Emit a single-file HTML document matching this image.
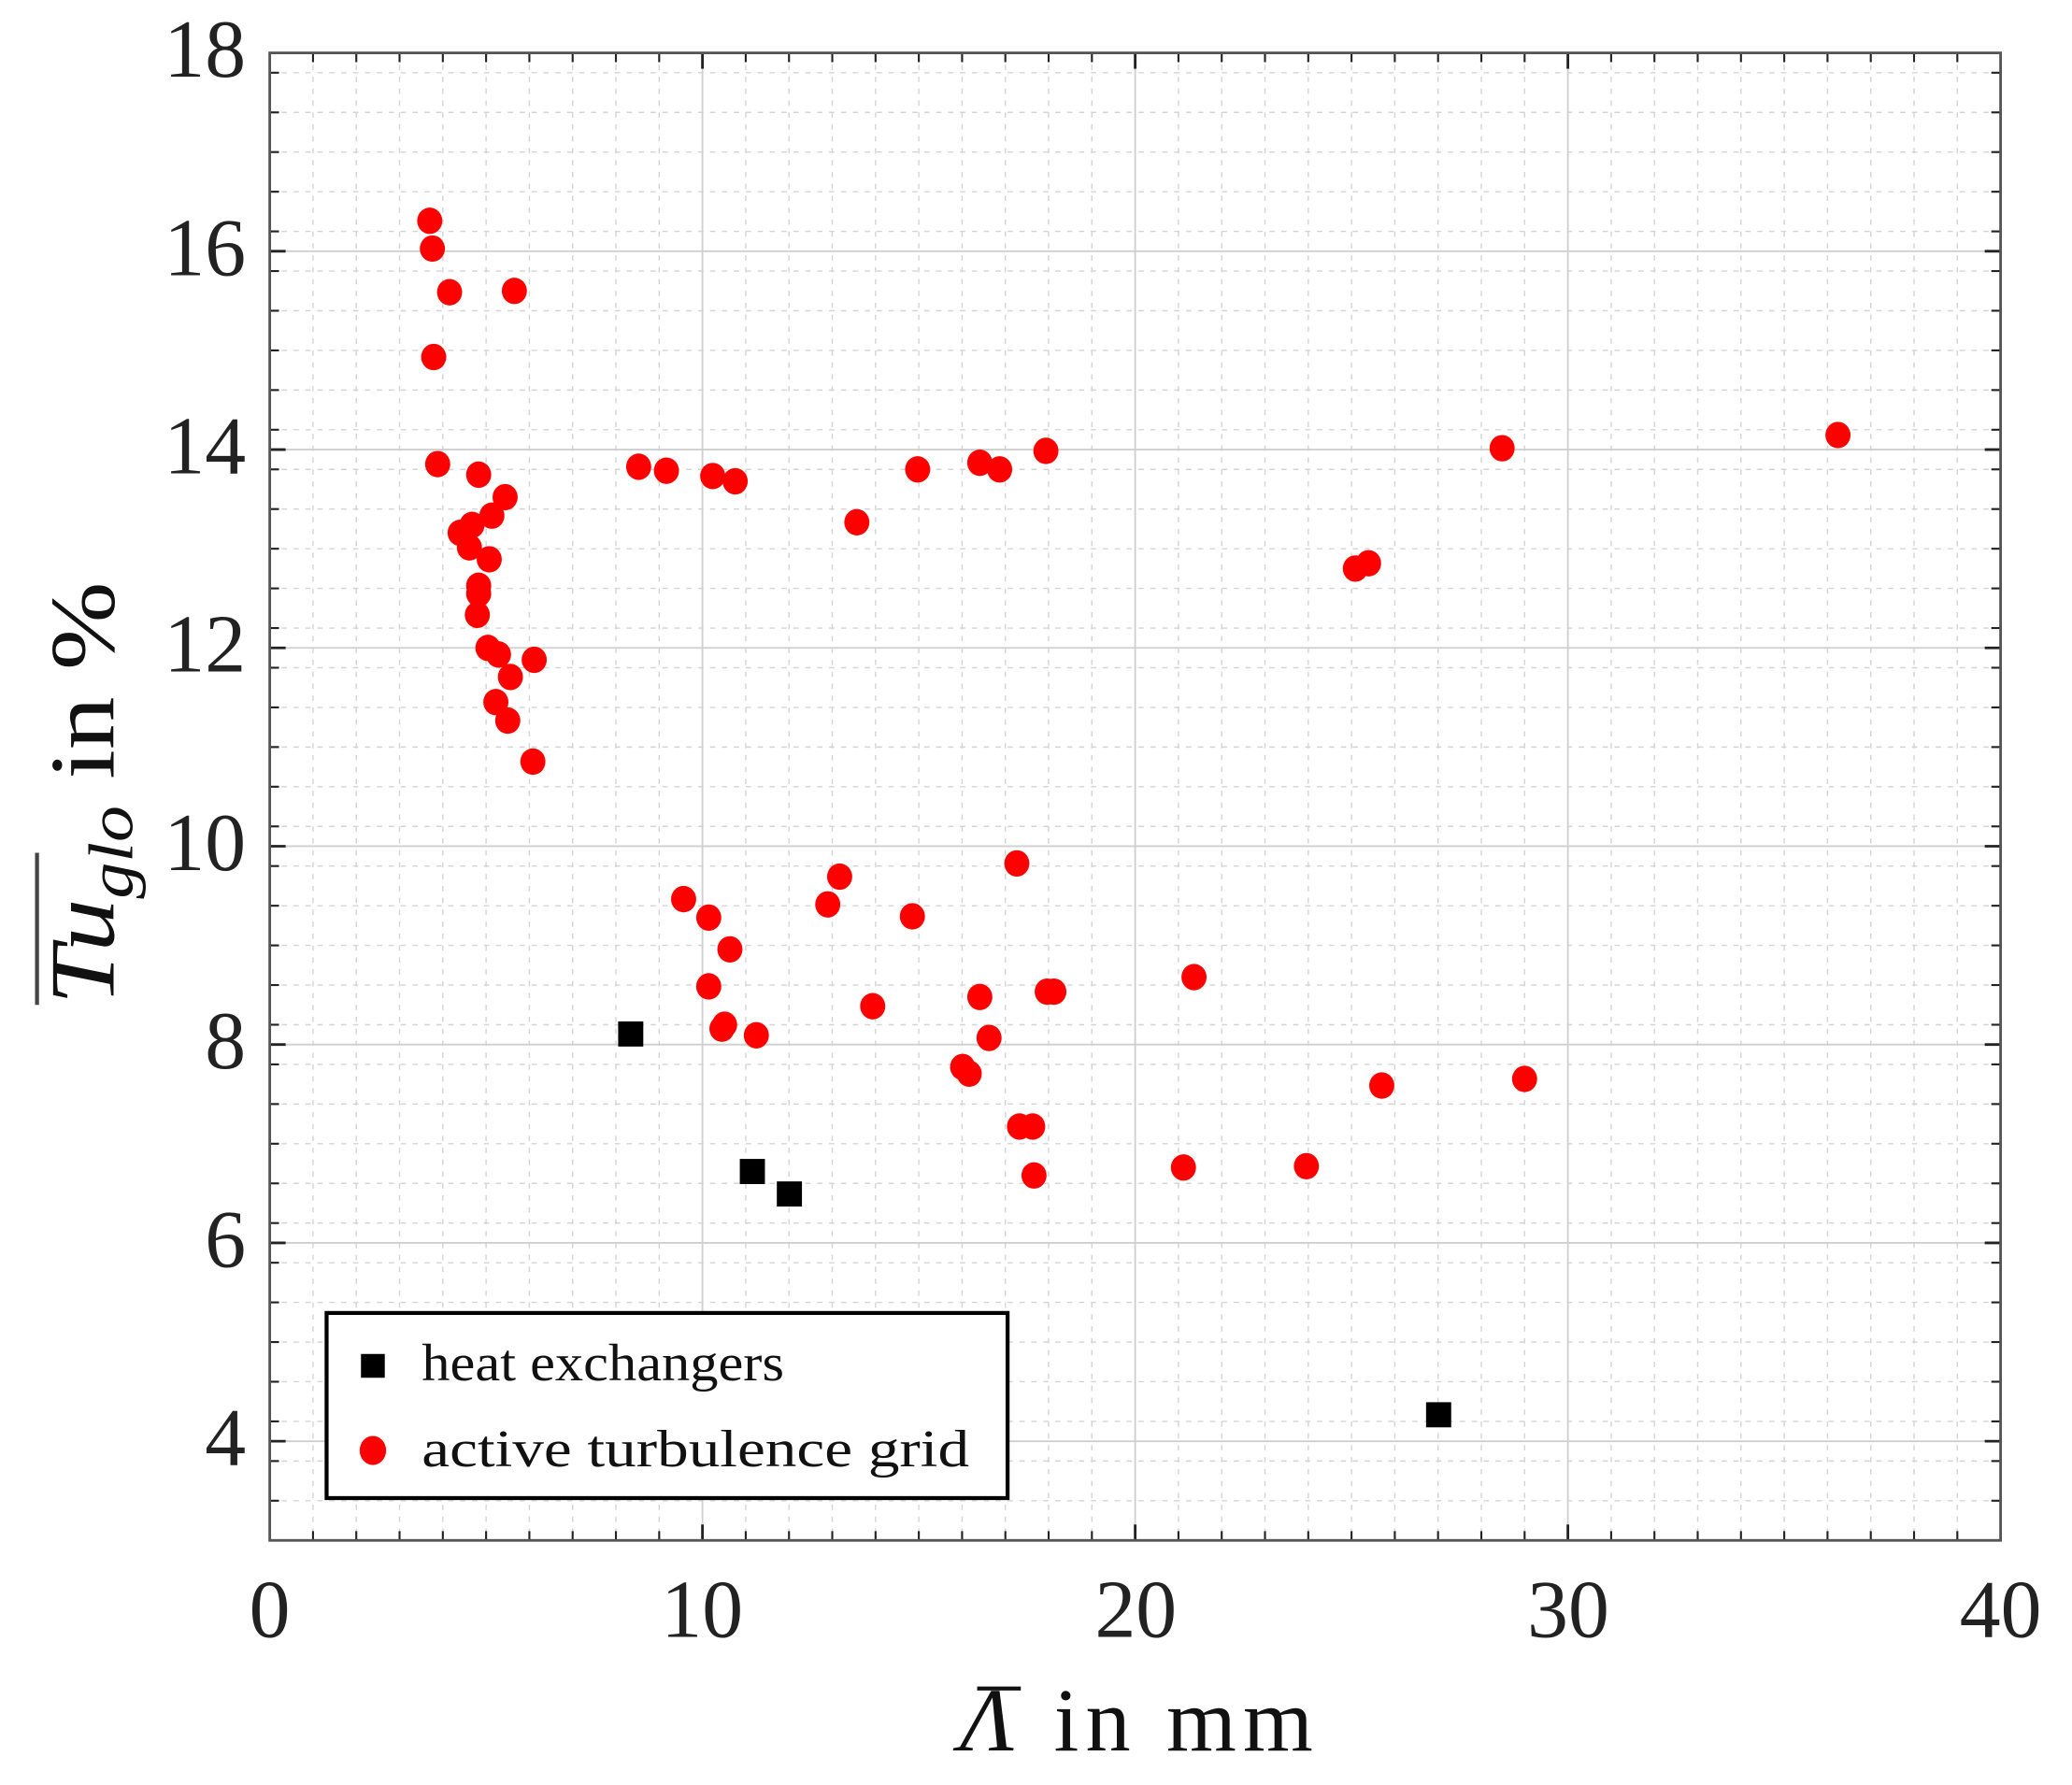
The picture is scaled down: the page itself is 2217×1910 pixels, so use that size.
<!DOCTYPE html>
<html><head><meta charset="utf-8"><style>
html,body{margin:0;padding:0;background:#fff;}
svg{display:block;}
</style></head><body>
<svg id="s" xmlns="http://www.w3.org/2000/svg" width="2217" height="1910" viewBox="0 0 1567 1350" font-family="'Liberation Serif', serif">
<rect x="0" y="0" width="1567" height="1350" fill="#fff"/>
<g id="grid"></g>
<g id="pts"></g>
<rect x="204" y="40" width="1309" height="1125" fill="none" stroke="#555" stroke-width="2"/>
<g font-size="62" fill="#222" text-anchor="end">
<text x="186" y="58">18</text>
<text x="186" y="208">16</text>
<text x="186" y="358">14</text>
<text x="186" y="508">12</text>
<text x="186" y="658">10</text>
<text x="186" y="808">8</text>
<text x="186" y="958">6</text>
<text x="186" y="1108">4</text>
</g>
<g font-size="62" fill="#222" text-anchor="middle">
<text x="204" y="1238">0</text>
<text x="531" y="1238">10</text>
<text x="859" y="1238">20</text>
<text x="1186" y="1238">30</text>
<text x="1513" y="1238">40</text>
</g>
<g fill="#111">
<text x="726" y="1324" font-size="68" font-style="italic">Λ</text>
<line x1="739" y1="1277" x2="772" y2="1277" stroke="#111" stroke-width="3"/>
<text x="797" y="1324" font-size="68" textLength="196" lengthAdjust="spacing">in mm</text>
</g>
<g transform="translate(86,600) rotate(-90)" fill="#111">
<text x="-160" y="0" font-size="70" textLength="320" lengthAdjust="spacingAndGlyphs"><tspan font-style="italic">Tu</tspan><tspan font-style="italic" font-size="48" dy="14">glo</tspan><tspan dy="-14"> in %</tspan></text>
<line x1="-160" y1="-58" x2="-45" y2="-58" stroke="#444" stroke-width="3"/>
</g>
<rect x="247" y="993" width="515" height="140" fill="#fff" stroke="#000" stroke-width="3"/>
<rect x="273" y="1024" width="18" height="18" fill="#000"/>
<ellipse cx="282" cy="1097" rx="10" ry="11" fill="#f00"/>
<g font-size="40" fill="#111">
<text x="319" y="1044" textLength="274" lengthAdjust="spacingAndGlyphs">heat exchangers</text>
<text x="319" y="1109" textLength="414" lengthAdjust="spacingAndGlyphs">active turbulence grid</text>
</g>
<script>
(function(){
var NS="http://www.w3.org/2000/svg";
var g=document.getElementById("grid");
function ln(x1,y1,x2,y2,st,w,da){var l=document.createElementNS(NS,"line");l.setAttribute("x1",x1);l.setAttribute("y1",y1);l.setAttribute("x2",x2);l.setAttribute("y2",y2);l.setAttribute("stroke",st);l.setAttribute("stroke-width",w);if(da)l.setAttribute("stroke-dasharray",da);g.appendChild(l);}
var L=204,R=1513,T=40,B=1165;
for(var i=1;i<40;i++){var x=L+i*1309/40;if(i%10==0)continue;ln(x,T,x,B,"#d4d4d4",1,"4,5");ln(x,B,x,B-7,"#222",1.5);ln(x,T,x,T+7,"#222",1.5);}
for(var v=3;v<=18.001;v+=0.4){var y=T+(18-v)*75;if(Math.abs(v-Math.round(v))<0.01&&Math.round(v)%2==0)continue;ln(L,y,R,y,"#d4d4d4",1,"4,5");ln(L,y,L+7,y,"#222",1.5);ln(R,y,R-7,y,"#222",1.5);}
for(var k=1;k<4;k++){var x=L+k*1309/4;ln(x,T,x,B,"#cfcfcf",1.3);ln(x,B,x,B-12,"#222",2);ln(x,T,x,T+12,"#222",2);}
for(var v=4;v<=16;v+=2){var y=T+(18-v)*75;ln(L,y,R,y,"#cfcfcf",1.3);ln(L,y,L+12,y,"#222",2);ln(R,y,R-12,y,"#222",2);}
var p=document.getElementById("pts");
var red=[[325,167],[327,188],[340,221],[389,220],[328,270],[331,351],[362,359],[382,376],[372,390],[357,397],[348,403],[355,414],[370,423],[362,443],[362,449],[361,465],[369,490],[377,495],[404,499],[386,512],[375,531],[384,545],[403,576],[483,353],[504,356],[539,360],[556,364],[648,395],[694,355],[741,350],[756,355],[791,341],[1025,430],[1035,426],[1136,339],[1390,329],[517,680],[536,694],[635,663],[626,684],[552,718],[536,746],[690,693],[769,653],[903,739],[660,761],[741,754],[792,750],[797,750],[548,775],[546,778],[572,783],[748,785],[728,807],[733,812],[1045,821],[1153,816],[771,852],[781,852],[782,889],[895,883],[988,882]];
red.forEach(function(c){var e=document.createElementNS(NS,"ellipse");e.setAttribute("cx",c[0]);e.setAttribute("cy",c[1]);e.setAttribute("rx",9.5);e.setAttribute("ry",10);e.setAttribute("fill","#f00");p.appendChild(e);});
[[477,782],[569,886],[597,903],[1088,1070]].forEach(function(c){var r=document.createElementNS(NS,"rect");r.setAttribute("x",c[0]-9.5);r.setAttribute("y",c[1]-9.5);r.setAttribute("width",19);r.setAttribute("height",19);r.setAttribute("fill","#000");p.appendChild(r);});
})();
</script>
</svg>
</body></html>
